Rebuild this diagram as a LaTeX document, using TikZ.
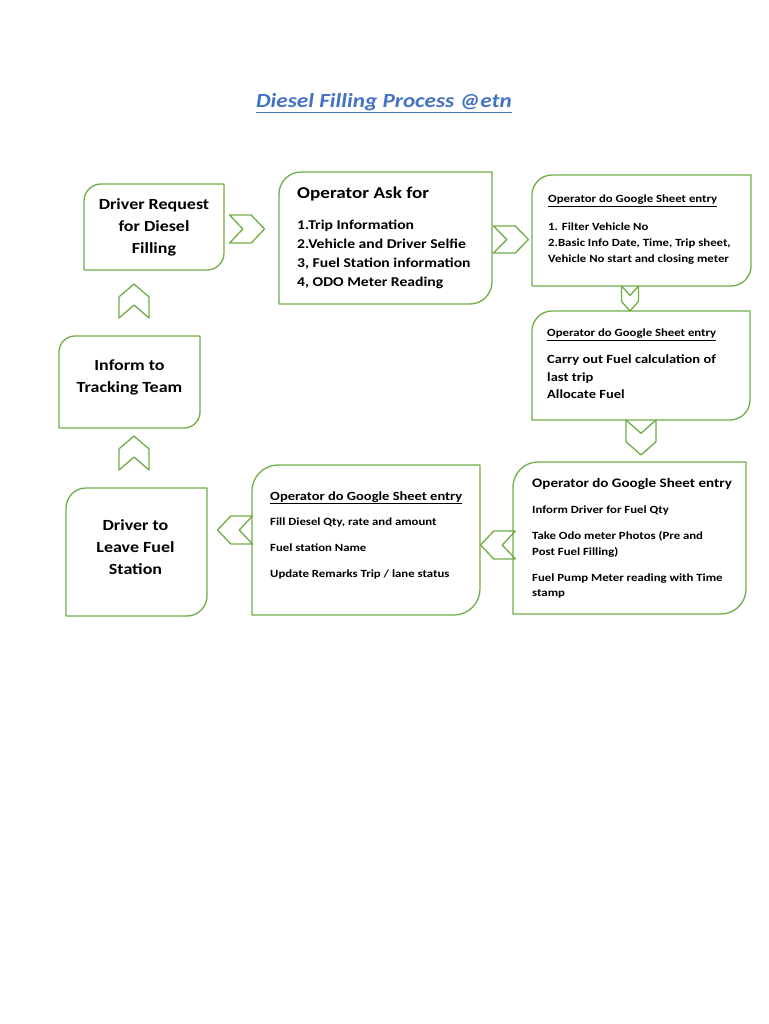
\documentclass[tikz,border=0pt]{standalone}
\usepackage{fontspec}
\setmainfont{Carlito}[FakeStretch=1.16]
\usetikzlibrary{calc}
\definecolor{boxgreen}{RGB}{112,173,71}
\definecolor{titleblue}{RGB}{68,114,196}
\tikzset{
  boxline/.style={draw=boxgreen, line width=1.3pt, line join=round},
  box/.style={inner sep=0pt, outer sep=0pt},
  bigtxt/.style={align=center, inner sep=0pt, font=\bfseries\fontsize{15.5}{22}\selectfont},
  headtxt/.style={anchor=base west, inner sep=0pt, font=\bfseries\fontsize{11}{13}\selectfont},
  listtxt/.style={anchor=north west, align=left, inner sep=0pt, font=\bfseries\fontsize{11}{16}\selectfont},
  pics/chev/.style={code={\draw[boxline] (-0.5,-0.5) -- (0.12,-0.5) -- (0.5,0) -- (0.12,0.5) -- (-0.5,0.5) -- (-0.12,0) -- cycle;}}
}
% box outline: round top left and bottom right corners
\newcommand{\snipbox}[2]{\draw[boxline] (#1.south west) -- ([yshift=-#2]#1.north west)
  arc[start angle=180, end angle=90, radius=#2] -- (#1.north east) -- ([yshift=#2]#1.south east)
  arc[start angle=0, end angle=-90, radius=#2] -- cycle;}

\begin{document}
\begin{tikzpicture}[x=1pt, y=-1pt]
\path[use as bounding box, fill=white] (0,0) rectangle (768,1024);

\node[anchor=base, inner sep=0pt, font=\bfseries\itshape\fontsize{20}{24}\selectfont, text=titleblue] (title) at (384,107.5) {\underline{Diesel Filling Process @etn}};

% boxes
\node[box, minimum width=140pt, minimum height=86pt] (dreq) at (154,227) {};
\node[box, minimum width=213pt, minimum height=132pt] (ask) at (385.5,238) {};
\node[box, minimum width=219pt, minimum height=111pt] (gsa) at (641.5,230.5) {};
\node[box, minimum width=218pt, minimum height=109pt] (gsb) at (641,365.5) {};
\node[box, minimum width=233pt, minimum height=152pt] (pump) at (629.5,538) {};
\node[box, minimum width=228pt, minimum height=150pt] (fill) at (366,540) {};
\node[box, minimum width=141pt, minimum height=128pt] (leave) at (136.5,552) {};
\node[box, minimum width=141pt, minimum height=92pt] (inform) at (129.5,382) {};

\snipbox{dreq}{17pt}
\snipbox{ask}{22pt}
\snipbox{gsa}{20pt}
\snipbox{gsb}{20pt}
\snipbox{pump}{25pt}
\snipbox{fill}{26pt}
\snipbox{leave}{20pt}
\snipbox{inform}{16pt}

% texts
\node[bigtxt] (dreqtxt) at (dreq.center) {Driver Request\\for Diesel\\Filling};
\node[bigtxt] (informtxt) at ($(inform.center)+(0,-5)$) {Inform to\\Tracking Team};
\node[bigtxt] (leavetxt) at ($(leave.center)+(-1,-5)$) {Driver to\\Leave Fuel\\Station};

\node[headtxt, font=\bfseries\fontsize{16.5}{20}\selectfont] (askhead) at ($(ask.north west)+(18,26.3)$) {Operator Ask for};
\node[listtxt, font=\bfseries\fontsize{13.5}{19}\selectfont] (asklist) at ($(ask.north west)+(18,48)$)
  {1.Trip Information\\2.Vehicle and Driver Selfie\\3, Fuel Station information\\4, ODO Meter Reading};

\node[headtxt] (gsahead) at ($(gsa.north west)+(16,27.5)$) {\underline{Operator do Google Sheet entry}};
\node[listtxt] (gsalist) at ($(gsa.north west)+(16,47.8)$)
  {1. Filter Vehicle No\\2.Basic Info Date, Time, Trip sheet,\\Vehicle No start and closing meter};

\node[headtxt] (gsbhead) at ($(gsb.north west)+(15,25.5)$) {\underline{Operator do Google Sheet entry}};
\node[listtxt, font=\bfseries\fontsize{12.5}{17.5}\selectfont] (gsblist) at ($(gsb.north west)+(15,44)$)
  {Carry out Fuel calculation of\\last trip\\Allocate Fuel};

\node[headtxt, font=\bfseries\fontsize{13}{15}\selectfont] (pumphead) at ($(pump.north west)+(19,25)$) {Operator do Google Sheet entry};
\node[listtxt, font=\bfseries\fontsize{11}{15.5}\selectfont] (pumplist) at ($(pump.north west)+(19,44)$)
  {Inform Driver for Fuel Qty\\[10.5pt]Take Odo meter Photos (Pre and\\Post Fuel Filling)\\[10.5pt]Fuel Pump Meter reading with Time\\stamp};

\node[headtxt, font=\bfseries\fontsize{12.5}{15}\selectfont] (fillhead) at ($(fill.north west)+(18,35)$) {\underline{Operator do Google Sheet entry}};
\node[listtxt, font=\bfseries\fontsize{11}{15.5}\selectfont] (filllist) at ($(fill.north west)+(18,53)$)
  {Fill Diesel Qty, rate and amount\\[10.5pt]Fuel station Name\\[10.5pt]Update Remarks Trip / lane status};

% chevrons between the boxes
\pic[shift={($(dreq.east)+(23,2)$)}, xscale=35, yscale=28] {chev};
\pic[shift={($(ask.east)+(19,1.5)$)}, xscale=35, yscale=27] {chev};
\pic[shift={($(gsa.south)+(-11.5,12.5)$)}, rotate=-90, xscale=25, yscale=17] {chev};
\pic[shift={($(gsb.south)+(0,17.5)$)}, rotate=-90, xscale=35, yscale=30] {chev};
\pic[shift={($(pump.west)+(-15,7)$)}, rotate=180, xscale=35, yscale=28] {chev};
\pic[shift={($(fill.west)+(-17,-10)$)}, rotate=180, xscale=35, yscale=28] {chev};
\pic[shift={($(inform.south)+(4.5,25)$)}, rotate=90, xscale=34, yscale=30] {chev};
\pic[shift={($(inform.north)+(4.5,-35)$)}, rotate=90, xscale=34, yscale=30] {chev};
\end{tikzpicture}
\end{document}
